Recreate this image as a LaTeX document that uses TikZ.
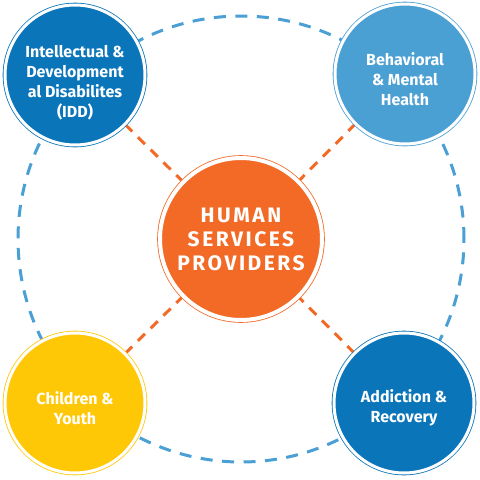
\documentclass[tikz,border=0pt]{standalone}
\usepackage{fontspec}
\setmainfont{Fira Sans}
\usepackage{xcolor}
\usetikzlibrary{positioning,backgrounds}
\definecolor{iddblue}{HTML}{0B75BA}
\definecolor{bhblue}{HTML}{4A9FD3}
\definecolor{hsorange}{HTML}{F26A26}
\definecolor{cyyellow}{HTML}{FFC807}
\definecolor{ringblue}{HTML}{4AA0D5}

\begin{document}
\begin{tikzpicture}[x=1pt, y=-1pt,
  font=\bfseries, text=white,
  cbox/.style={circle, fill=#1, draw=#1, double=white, double distance=3pt,
               line width=0.8pt, minimum size=140pt, inner sep=0pt},
  ctext/.style={text=white, align=center, inner sep=0pt, yshift=-5pt,
                font=\fontsize{16}{20}\selectfont\bfseries},
  hub/.style={circle, fill=hsorange, draw=hsorange, double=white, double distance=4pt,
              line width=0.8pt, minimum size=162pt, inner sep=0pt, align=center,
              font=\fontsize{21}{24}\selectfont\bfseries\addfontfeatures{LetterSpace=12}},
  ringdash/.style={draw=ringblue, line width=3pt, dash pattern=on 12pt off 9.5pt},
  spoke/.style={draw=hsorange, line width=3pt, dash pattern=on 10pt off 8pt}]
\useasboundingbox (0,0) rectangle (480,480);
\node[hub] (hsp) at (241,239) {HUMAN\\SERVICES\\PROVIDERS};
\node[cbox=iddblue, label={[ctext, yshift=-3pt]center:{Intellectual \&\\Development\\al Disabilites\\(IDD)}}] (idd) at (75,75) {};
\node[cbox=bhblue, label={[ctext]center:{Behavioral\\\& Mental\\Health}}] (bmh) at (405,74) {};
\node[cbox=cyyellow, label={[ctext]center:{Children \&\\Youth}}] (cy) at (75,403) {};
\node[cbox=iddblue, label={[ctext]center:{Addiction \&\\Recovery}}] (ar) at (404,403) {};
\begin{scope}[on background layer]
\draw[ringdash] (hsp.center) circle[radius=223pt];
\draw[spoke] (idd) -- (hsp); \draw[spoke] (bmh) -- (hsp);
\draw[spoke] (cy) -- (hsp); \draw[spoke] (ar) -- (hsp);
\end{scope}
\end{tikzpicture}
\end{document}
